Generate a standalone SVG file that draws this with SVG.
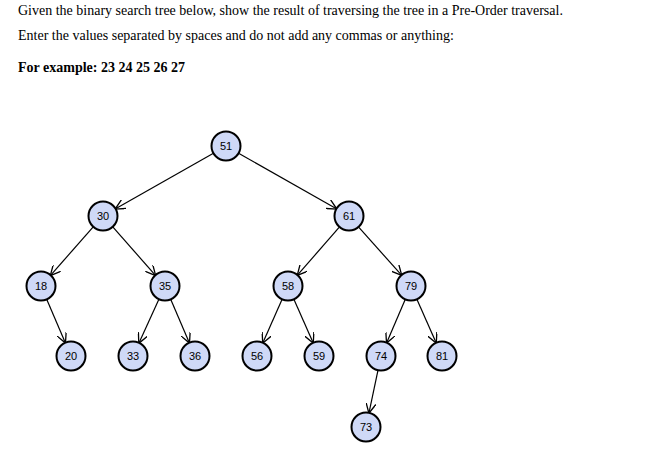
<svg xmlns="http://www.w3.org/2000/svg" width="647" height="449" viewBox="0 0 647 449">
<style>
.t{font-family:"Liberation Serif",serif;font-size:14px;fill:#000}
.n circle{fill:#cfd9f7;stroke:#000;stroke-width:2}
.n text{font-family:"Liberation Sans",Arial,sans-serif;font-size:11px;text-anchor:middle;fill:#000}
#edges line{stroke:#000;stroke-width:1.2;marker-end:url(#a)}
</style>
<defs><marker id="a" viewBox="0 0 10 10" refX="9" refY="5" markerWidth="10" markerHeight="10" markerUnits="userSpaceOnUse" orient="auto"><path d="M0,0L10,5L0,10" fill="none" stroke="#000" stroke-width="1.3"/></marker></defs>
<rect width="647" height="449" fill="#fff"/>
<text class="t" x="18" y="15">Given the binary search tree below, show the result of traversing the tree in a Pre-Order traversal.</text>
<text class="t" x="18" y="40">Enter the values separated by spaces and do not add any commas or anything:</text>
<text class="t" x="18" y="72" font-weight="bold">For example: 23 24 25 26 27</text>
<g id="edges">
<line x1="213" y1="153.4" x2="116" y2="208.6"/>
<line x1="239" y1="153.4" x2="336" y2="208.6"/>
<line x1="93" y1="227.2" x2="51" y2="274.8"/>
<line x1="113" y1="227.2" x2="155" y2="274.8"/>
<line x1="339.1" y1="227.3" x2="297.9" y2="274.7"/>
<line x1="358.9" y1="227.3" x2="401.1" y2="274.7"/>
<line x1="46.9" y1="299.8" x2="65.1" y2="342.2"/>
<line x1="158.8" y1="299.6" x2="139.2" y2="342.4"/>
<line x1="170.9" y1="299.8" x2="189.1" y2="342.2"/>
<line x1="281.9" y1="299.7" x2="263.1" y2="342.3"/>
<line x1="294.1" y1="299.7" x2="312.9" y2="342.3"/>
<line x1="405.1" y1="299.8" x2="386.9" y2="342.2"/>
<line x1="417.1" y1="299.7" x2="435.9" y2="342.3"/>
<line x1="377.9" y1="370.7" x2="369.1" y2="412.3"/>
</g>
<g id="n51" class="n"><circle cx="226" cy="146" r="14.5"/><text x="226" y="150">51</text></g>
<g id="n30" class="n"><circle cx="103" cy="216" r="14.5"/><text x="103" y="220">30</text></g>
<g id="n61" class="n"><circle cx="349" cy="216" r="14.5"/><text x="349" y="220">61</text></g>
<g id="n18" class="n"><circle cx="41" cy="286" r="14.5"/><text x="41" y="290">18</text></g>
<g id="n35" class="n"><circle cx="165" cy="286" r="14.5"/><text x="165" y="290">35</text></g>
<g id="n58" class="n"><circle cx="288" cy="286" r="14.5"/><text x="288" y="290">58</text></g>
<g id="n79" class="n"><circle cx="411" cy="286" r="14.5"/><text x="411" y="290">79</text></g>
<g id="n20" class="n"><circle cx="71" cy="356" r="14.5"/><text x="71" y="360">20</text></g>
<g id="n33" class="n"><circle cx="133" cy="356" r="14.5"/><text x="133" y="360">33</text></g>
<g id="n36" class="n"><circle cx="195" cy="356" r="14.5"/><text x="195" y="360">36</text></g>
<g id="n56" class="n"><circle cx="257" cy="356" r="14.5"/><text x="257" y="360">56</text></g>
<g id="n59" class="n"><circle cx="319" cy="356" r="14.5"/><text x="319" y="360">59</text></g>
<g id="n74" class="n"><circle cx="381" cy="356" r="14.5"/><text x="381" y="360">74</text></g>
<g id="n81" class="n"><circle cx="442" cy="356" r="14.5"/><text x="442" y="360">81</text></g>
<g id="n73" class="n"><circle cx="366" cy="427" r="14.5"/><text x="366" y="431">73</text></g>
</svg>
